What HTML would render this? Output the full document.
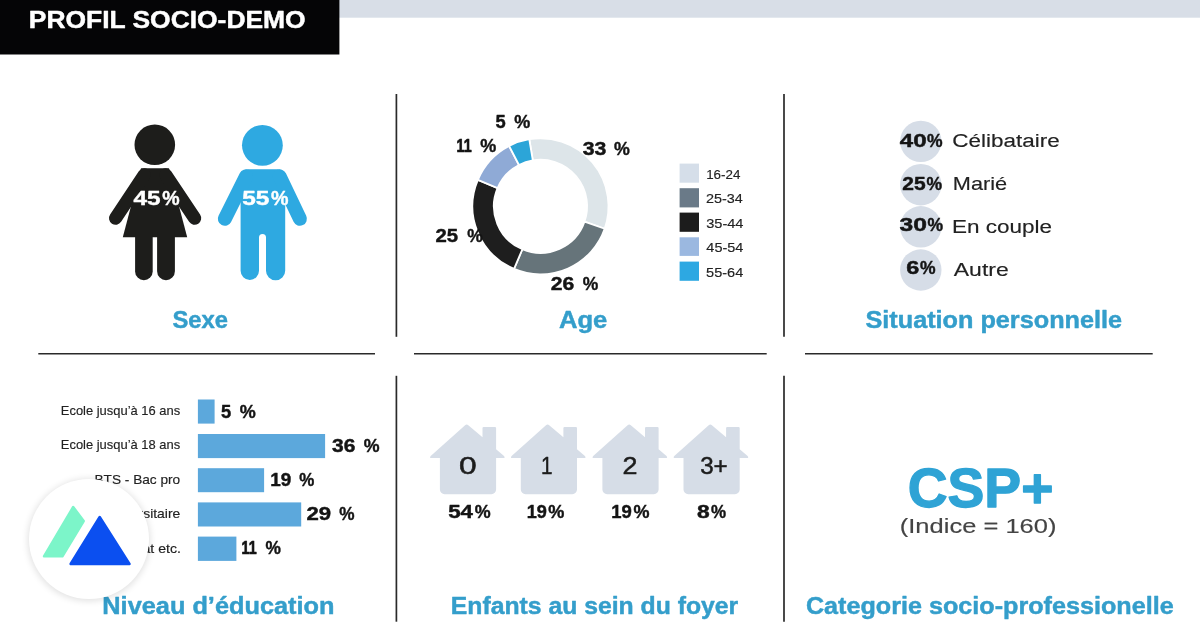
<!DOCTYPE html>
<html lang="fr"><head><meta charset="utf-8"><title>Profil socio-demo</title>
<style>
html,body{margin:0;padding:0;background:#ffffff;}
body{width:1200px;height:628px;overflow:hidden;}
svg{display:block;font-family:'Liberation Sans', Arial, sans-serif;}
</style></head><body>
<svg width="1200" height="628" viewBox="0 0 1200 628">
<rect width="1200" height="628" fill="#ffffff"/>
<rect x="339.00" y="0.00" width="861.00" height="17.70" fill="#d8dee7" />
<rect x="0.00" y="0.00" width="339.40" height="54.50" fill="#050506" />
<text transform="translate(28.77,28.27) scale(1.1192,1)" font-size="23.62" font-weight="700" fill="#ffffff" stroke="#ffffff" stroke-width="0.45" stroke-linejoin="round">PROFIL SOCIO-DEMO</text>
<line x1="38.3" y1="353.7" x2="375" y2="353.7" stroke="#2a2a2a" stroke-width="1.5"/>
<line x1="414" y1="353.7" x2="766.7" y2="353.7" stroke="#2a2a2a" stroke-width="1.5"/>
<line x1="805" y1="353.7" x2="1152.7" y2="353.7" stroke="#2a2a2a" stroke-width="1.5"/>
<line x1="396.4" y1="94" x2="396.4" y2="336.8" stroke="#2a2a2a" stroke-width="1.7"/>
<line x1="396.4" y1="375.8" x2="396.4" y2="621.7" stroke="#2a2a2a" stroke-width="1.7"/>
<line x1="784" y1="94" x2="784" y2="336.8" stroke="#2a2a2a" stroke-width="1.7"/>
<line x1="784" y1="375.8" x2="784" y2="621.7" stroke="#2a2a2a" stroke-width="1.7"/>
<text transform="translate(172.41,328.47) scale(1.0131,1)" font-size="23.47" font-weight="700" fill="#349ecb" stroke="#349ecb" stroke-width="0.45" stroke-linejoin="round">Sexe</text>
<text transform="translate(558.90,328.47) scale(1.0920,1)" font-size="23.47" font-weight="700" fill="#349ecb" stroke="#349ecb" stroke-width="0.45" stroke-linejoin="round">Age</text>
<text transform="translate(865.48,328.47) scale(1.0759,1)" font-size="23.47" font-weight="700" fill="#349ecb" stroke="#349ecb" stroke-width="0.45" stroke-linejoin="round">Situation personnelle</text>
<text transform="translate(102.33,613.77) scale(1.0792,1)" font-size="23.47" font-weight="700" fill="#349ecb" stroke="#349ecb" stroke-width="0.45" stroke-linejoin="round">Niveau d’éducation</text>
<text transform="translate(450.87,613.77) scale(1.0547,1)" font-size="23.47" font-weight="700" fill="#349ecb" stroke="#349ecb" stroke-width="0.45" stroke-linejoin="round">Enfants au sein du foyer</text>
<text transform="translate(805.93,613.77) scale(1.0725,1)" font-size="23.47" font-weight="700" fill="#349ecb" stroke="#349ecb" stroke-width="0.45" stroke-linejoin="round">Categorie socio-professionelle</text>
<g fill="#1d1d1b" stroke="#1d1d1b">
<circle cx="154.8" cy="144.8" r="20.3" stroke="none"/>
<path d="M141,168.2 L169,168.2 L187.2,237.3 L122.8,237.3 Z" stroke="none"/>
<line x1="144.3" y1="174.9" x2="115.6" y2="218.2" stroke-width="13.2" stroke-linecap="round"/>
<line x1="165.7" y1="174.9" x2="194.6" y2="218.2" stroke-width="13.2" stroke-linecap="round"/>
<path d="M135.1,232 H152.7 V271.4 A8.8,8.8 0 0 1 135.1,271.4 Z" stroke="none"/>
<path d="M157.1,232 H174.9 V271.3 A8.9,8.9 0 0 1 157.1,271.3 Z" stroke="none"/>
</g>
<g fill="#2ea9e1" stroke="#2ea9e1">
<circle cx="262.4" cy="145.3" r="20.4" stroke="none"/>
<path d="M240.6,177 A7.8,7.8 0 0 1 248.4,169.2 H277.4 A7.8,7.8 0 0 1 285.2,177 V270.7 A9.6,9.6 0 0 1 266,270.7 V237.4 A3.5,3.5 0 0 0 259,237.4 V270.7 A9.2,9.2 0 0 1 240.6,270.7 Z" stroke="none"/>
<line x1="246" y1="176.3" x2="224.8" y2="218.8" stroke-width="14" stroke-linecap="round"/>
<line x1="279.6" y1="176.3" x2="299.9" y2="218.8" stroke-width="14" stroke-linecap="round"/>
</g>
<text transform="translate(133.60,204.88) scale(1.1828,1)" font-size="20.57" font-weight="700" fill="#ffffff" stroke="#ffffff" stroke-width="0.45" stroke-linejoin="round">45</text>
<text transform="translate(162.23,204.88) scale(0.9505,1)" font-size="20.57" font-weight="700" fill="#ffffff" stroke="#ffffff" stroke-width="0.45" stroke-linejoin="round">%</text>
<text transform="translate(242.27,204.88) scale(1.1885,1)" font-size="20.57" font-weight="700" fill="#ffffff" stroke="#ffffff" stroke-width="0.45" stroke-linejoin="round">55</text>
<text transform="translate(271.02,204.88) scale(0.9562,1)" font-size="20.57" font-weight="700" fill="#ffffff" stroke="#ffffff" stroke-width="0.45" stroke-linejoin="round">%</text>
<path d="M529.28,139.23 A68.0,68.0 0 0 1 604.68,228.77 L584.48,221.70 A46.6,46.6 0 0 0 532.81,160.34 Z" fill="#dde5e9" stroke="#ffffff" stroke-width="1.8"/>
<path d="M604.68,228.77 A68.0,68.0 0 0 1 514.04,268.94 L522.37,249.23 A46.6,46.6 0 0 0 584.48,221.70 Z" fill="#66747a" stroke="#ffffff" stroke-width="1.8"/>
<path d="M514.04,268.94 A68.0,68.0 0 0 1 477.86,179.84 L497.57,188.17 A46.6,46.6 0 0 0 522.37,249.23 Z" fill="#1e1e1e" stroke="#ffffff" stroke-width="1.8"/>
<path d="M477.86,179.84 A68.0,68.0 0 0 1 509.10,145.98 L518.98,164.97 A46.6,46.6 0 0 0 497.57,188.17 Z" fill="#8faad6" stroke="#ffffff" stroke-width="1.8"/>
<path d="M509.10,145.98 A68.0,68.0 0 0 1 529.28,139.23 L532.81,160.34 A46.6,46.6 0 0 0 518.98,164.97 Z" fill="#2ca5d8" stroke="#ffffff" stroke-width="1.8"/>
<text transform="translate(495.62,128.47) scale(0.9516,1)" font-size="19.26" font-weight="700" fill="#141414" stroke="#141414" stroke-width="0.45" stroke-linejoin="round">5</text>
<text transform="translate(514.26,128.47) scale(0.9349,1)" font-size="19.26" font-weight="700" fill="#141414" stroke="#141414" stroke-width="0.45" stroke-linejoin="round">%</text>
<text transform="translate(456.59,151.62) scale(0.7561,1)" font-size="18.82" font-weight="700" fill="#141414" stroke="#141414" stroke-width="0.75" stroke-linejoin="round">11</text>
<text transform="translate(480.26,151.78) scale(0.9349,1)" font-size="19.26" font-weight="700" fill="#141414" stroke="#141414" stroke-width="0.45" stroke-linejoin="round">%</text>
<text transform="translate(582.77,155.18) scale(1.1052,1)" font-size="19.26" font-weight="700" fill="#141414" stroke="#141414" stroke-width="0.45" stroke-linejoin="round">33</text>
<text transform="translate(613.96,155.18) scale(0.9228,1)" font-size="19.26" font-weight="700" fill="#141414" stroke="#141414" stroke-width="0.45" stroke-linejoin="round">%</text>
<text transform="translate(435.53,242.38) scale(1.0570,1)" font-size="19.26" font-weight="700" fill="#141414" stroke="#141414" stroke-width="0.45" stroke-linejoin="round">25</text>
<text transform="translate(467.27,242.38) scale(0.9047,1)" font-size="19.26" font-weight="700" fill="#141414" stroke="#141414" stroke-width="0.45" stroke-linejoin="round">%</text>
<text transform="translate(550.71,289.88) scale(1.0987,1)" font-size="19.26" font-weight="700" fill="#141414" stroke="#141414" stroke-width="0.45" stroke-linejoin="round">26</text>
<text transform="translate(582.77,289.88) scale(0.9047,1)" font-size="19.26" font-weight="700" fill="#141414" stroke="#141414" stroke-width="0.45" stroke-linejoin="round">%</text>
<rect x="679.60" y="163.60" width="19.40" height="19.10" fill="#d5dee9" />
<text transform="translate(706.18,178.62) scale(1.0519,1)" font-size="12.72" font-weight="400" fill="#222222" stroke="#222222" stroke-width="0.15" stroke-linejoin="round">16-24</text>
<rect x="679.60" y="188.20" width="19.40" height="19.20" fill="#6a7a88" />
<text transform="translate(705.96,203.03) scale(1.1328,1)" font-size="12.72" font-weight="400" fill="#222222" stroke="#222222" stroke-width="0.15" stroke-linejoin="round">25-34</text>
<rect x="679.60" y="212.60" width="19.40" height="19.20" fill="#1c1c1c" />
<text transform="translate(706.14,227.62) scale(1.1491,1)" font-size="12.72" font-weight="400" fill="#222222" stroke="#222222" stroke-width="0.15" stroke-linejoin="round">35-44</text>
<rect x="679.60" y="237.30" width="19.40" height="18.60" fill="#9bb8e0" />
<text transform="translate(706.36,252.03) scale(1.1361,1)" font-size="12.72" font-weight="400" fill="#222222" stroke="#222222" stroke-width="0.15" stroke-linejoin="round">45-54</text>
<rect x="679.60" y="261.60" width="19.40" height="19.20" fill="#2da8e2" />
<text transform="translate(706.10,277.32) scale(1.1440,1)" font-size="12.72" font-weight="400" fill="#222222" stroke="#222222" stroke-width="0.15" stroke-linejoin="round">55-64</text>
<circle cx="920.8" cy="141.4" r="20.7" fill="#d6dde7"/>
<circle cx="920.8" cy="184.7" r="20.7" fill="#d6dde7"/>
<circle cx="920.8" cy="226.8" r="20.7" fill="#d6dde7"/>
<circle cx="920.8" cy="270.0" r="20.7" fill="#d6dde7"/>
<text transform="translate(899.84,147.38) scale(1.3517,1)" font-size="17.81" font-weight="700" fill="#141414" stroke="#141414" stroke-width="0.45" stroke-linejoin="round">40</text>
<text transform="translate(927.08,147.38) scale(0.9830,1)" font-size="17.81" font-weight="700" fill="#141414" stroke="#141414" stroke-width="0.45" stroke-linejoin="round">%</text>
<text transform="translate(902.33,189.78) scale(1.1779,1)" font-size="17.81" font-weight="700" fill="#141414" stroke="#141414" stroke-width="0.45" stroke-linejoin="round">25</text>
<text transform="translate(926.48,189.78) scale(0.9830,1)" font-size="17.81" font-weight="700" fill="#141414" stroke="#141414" stroke-width="0.45" stroke-linejoin="round">%</text>
<text transform="translate(899.56,231.38) scale(1.3821,1)" font-size="17.81" font-weight="700" fill="#141414" stroke="#141414" stroke-width="0.45" stroke-linejoin="round">30</text>
<text transform="translate(927.48,231.38) scale(0.9830,1)" font-size="17.81" font-weight="700" fill="#141414" stroke="#141414" stroke-width="0.45" stroke-linejoin="round">%</text>
<text transform="translate(906.22,273.77) scale(1.3162,1)" font-size="17.81" font-weight="700" fill="#141414" stroke="#141414" stroke-width="0.45" stroke-linejoin="round">6</text>
<text transform="translate(919.98,273.77) scale(0.9830,1)" font-size="17.81" font-weight="700" fill="#141414" stroke="#141414" stroke-width="0.45" stroke-linejoin="round">%</text>
<text transform="translate(952.27,147.23) scale(1.1937,1)" font-size="18.82" font-weight="400" fill="#222222" stroke="#222222" stroke-width="0.15" stroke-linejoin="round">Célibataire</text>
<text transform="translate(952.79,190.12) scale(1.1549,1)" font-size="18.82" font-weight="400" fill="#222222" stroke="#222222" stroke-width="0.15" stroke-linejoin="round">Marié</text>
<text transform="translate(952.03,233.43) scale(1.1962,1)" font-size="18.82" font-weight="400" fill="#222222" stroke="#222222" stroke-width="0.15" stroke-linejoin="round">En couple</text>
<text transform="translate(953.83,276.23) scale(1.2193,1)" font-size="18.82" font-weight="400" fill="#222222" stroke="#222222" stroke-width="0.15" stroke-linejoin="round">Autre</text>
<rect x="197.90" y="399.50" width="16.70" height="24.10" fill="#5ca8dc" />
<rect x="197.90" y="434.00" width="127.20" height="24.10" fill="#5ca8dc" />
<rect x="197.90" y="468.20" width="66.20" height="24.00" fill="#5ca8dc" />
<rect x="197.90" y="502.40" width="103.30" height="24.10" fill="#5ca8dc" />
<rect x="197.90" y="536.60" width="38.50" height="24.30" fill="#5ca8dc" />
<text transform="translate(221.02,418.47) scale(0.9585,1)" font-size="19.11" font-weight="700" fill="#141414" stroke="#141414" stroke-width="0.45" stroke-linejoin="round">5</text>
<text transform="translate(239.66,418.47) scale(0.9418,1)" font-size="19.11" font-weight="700" fill="#141414" stroke="#141414" stroke-width="0.45" stroke-linejoin="round">%</text>
<text transform="translate(331.97,451.77) scale(1.0989,1)" font-size="19.11" font-weight="700" fill="#141414" stroke="#141414" stroke-width="0.45" stroke-linejoin="round">36</text>
<text transform="translate(363.66,451.77) scale(0.9297,1)" font-size="19.11" font-weight="700" fill="#141414" stroke="#141414" stroke-width="0.45" stroke-linejoin="round">%</text>
<text transform="translate(270.14,486.38) scale(0.9898,1)" font-size="19.11" font-weight="700" fill="#141414" stroke="#141414" stroke-width="0.45" stroke-linejoin="round">19</text>
<text transform="translate(299.18,486.38) scale(0.8871,1)" font-size="19.11" font-weight="700" fill="#141414" stroke="#141414" stroke-width="0.45" stroke-linejoin="round">%</text>
<text transform="translate(306.48,520.27) scale(1.1610,1)" font-size="19.11" font-weight="700" fill="#141414" stroke="#141414" stroke-width="0.45" stroke-linejoin="round">29</text>
<text transform="translate(339.17,520.27) scale(0.8993,1)" font-size="19.11" font-weight="700" fill="#141414" stroke="#141414" stroke-width="0.45" stroke-linejoin="round">%</text>
<text transform="translate(241.60,553.73) scale(0.7617,1)" font-size="18.68" font-weight="700" fill="#141414" stroke="#141414" stroke-width="0.75" stroke-linejoin="round">11</text>
<text transform="translate(265.57,553.88) scale(0.9054,1)" font-size="19.11" font-weight="700" fill="#141414" stroke="#141414" stroke-width="0.45" stroke-linejoin="round">%</text>
<text transform="translate(60.81,415.23) scale(0.9942,1)" font-size="13.01" font-weight="400" fill="#222222" stroke="#222222" stroke-width="0.15" stroke-linejoin="round">Ecole jusqu’à 16 ans</text>
<text transform="translate(60.81,449.32) scale(0.9942,1)" font-size="13.01" font-weight="400" fill="#222222" stroke="#222222" stroke-width="0.15" stroke-linejoin="round">Ecole jusqu’à 18 ans</text>
<text transform="translate(94.45,483.82) scale(1.0505,1)" font-size="13.01" font-weight="400" fill="#222222" stroke="#222222" stroke-width="0.15" stroke-linejoin="round">BTS - Bac pro</text>
<text transform="translate(103.00,518.02) scale(1.0698,1)" font-size="13.01" font-weight="400" fill="#222222" stroke="#222222" stroke-width="0.15" stroke-linejoin="round">Universitaire</text>
<text transform="translate(100.92,552.82) scale(1.0856,1)" font-size="13.01" font-weight="400" fill="#222222" stroke="#222222" stroke-width="0.15" stroke-linejoin="round">Doctorat etc.</text>
<path d="M439.9,458 V489.5 A4.7,4.7 0 0 0 444.6,494.2 H491.4 A4.7,4.7 0 0 0 496.1,489.5 V458 H503.3 Q505.6,458 504.0,456 L496.1,449.3 V428.1 A1.2,1.2 0 0 0 494.9,426.9 H483.7 A1.2,1.2 0 0 0 482.5,428.1 V437.3 L468.3,425.2 Q466.7,423.6 465.1,425.2 L430.7,456 Q429.0,458 431.4,458 Z" fill="#d6dde7"/>
<path d="M520.8,458 V489.5 A4.7,4.7 0 0 0 525.5,494.2 H572.3 A4.7,4.7 0 0 0 577.0,489.5 V458 H584.2 Q586.5,458 584.9,456 L577.0,449.3 V428.1 A1.2,1.2 0 0 0 575.8,426.9 H564.6 A1.2,1.2 0 0 0 563.4,428.1 V437.3 L549.2,425.2 Q547.6,423.6 546.0,425.2 L511.6,456 Q509.9,458 512.3,458 Z" fill="#d6dde7"/>
<path d="M602.4,458 V489.5 A4.7,4.7 0 0 0 607.1,494.2 H653.9 A4.7,4.7 0 0 0 658.6,489.5 V458 H665.8 Q668.1,458 666.5,456 L658.6,449.3 V428.1 A1.2,1.2 0 0 0 657.4,426.9 H646.2 A1.2,1.2 0 0 0 645.0,428.1 V437.3 L630.8,425.2 Q629.2,423.6 627.6,425.2 L593.2,456 Q591.5,458 593.9,458 Z" fill="#d6dde7"/>
<path d="M683.5,458 V489.5 A4.7,4.7 0 0 0 688.2,494.2 H735.0 A4.7,4.7 0 0 0 739.7,489.5 V458 H746.9 Q749.2,458 747.6,456 L739.7,449.3 V428.1 A1.2,1.2 0 0 0 738.5,426.9 H727.3 A1.2,1.2 0 0 0 726.1,428.1 V437.3 L711.9,425.2 Q710.3,423.6 708.7,425.2 L674.3,456 Q672.6,458 675.0,458 Z" fill="#d6dde7"/>
<text transform="translate(459.06,473.55) scale(1.3068,1)" font-size="24.27" font-weight="400" fill="#1c1c1c" stroke="#1c1c1c" stroke-width="0.5" stroke-linejoin="round">0</text>
<text transform="translate(540.96,473.55) scale(0.8547,1)" font-size="24.27" font-weight="400" fill="#1c1c1c" stroke="#1c1c1c" stroke-width="0.5" stroke-linejoin="round">1</text>
<text transform="translate(622.53,473.55) scale(1.1088,1)" font-size="24.27" font-weight="400" fill="#1c1c1c" stroke="#1c1c1c" stroke-width="0.5" stroke-linejoin="round">2</text>
<text transform="translate(700.14,473.55) scale(0.9982,1)" font-size="24.27" font-weight="400" fill="#1c1c1c" stroke="#1c1c1c" stroke-width="0.5" stroke-linejoin="round">3+</text>
<text transform="translate(448.15,518.38) scale(1.2242,1)" font-size="18.24" font-weight="700" fill="#141414" stroke="#141414" stroke-width="0.45" stroke-linejoin="round">54</text>
<text transform="translate(474.77,518.38) scale(0.9792,1)" font-size="18.24" font-weight="700" fill="#141414" stroke="#141414" stroke-width="0.45" stroke-linejoin="round">%</text>
<text transform="translate(526.69,518.38) scale(0.9937,1)" font-size="18.24" font-weight="700" fill="#141414" stroke="#141414" stroke-width="0.45" stroke-linejoin="round">19</text>
<text transform="translate(548.37,518.38) scale(0.9919,1)" font-size="18.24" font-weight="700" fill="#141414" stroke="#141414" stroke-width="0.45" stroke-linejoin="round">%</text>
<text transform="translate(611.27,518.38) scale(1.0148,1)" font-size="18.24" font-weight="700" fill="#141414" stroke="#141414" stroke-width="0.45" stroke-linejoin="round">19</text>
<text transform="translate(633.57,518.38) scale(0.9856,1)" font-size="18.24" font-weight="700" fill="#141414" stroke="#141414" stroke-width="0.45" stroke-linejoin="round">%</text>
<text transform="translate(697.04,518.38) scale(1.2508,1)" font-size="18.24" font-weight="700" fill="#141414" stroke="#141414" stroke-width="0.45" stroke-linejoin="round">8</text>
<text transform="translate(710.89,518.38) scale(0.9283,1)" font-size="18.24" font-weight="700" fill="#141414" stroke="#141414" stroke-width="0.45" stroke-linejoin="round">%</text>
<text transform="translate(907.64,506.65) scale(1.0022,1)" font-size="55.09" font-weight="700" fill="#2fa3d5" stroke="#2fa3d5" stroke-width="1.3" stroke-linejoin="round">CSP+</text>
<text transform="translate(899.80,533.32) scale(1.2404,1)" font-size="20.57" font-weight="400" fill="#444444" stroke="#444444" stroke-width="0.15" stroke-linejoin="round">(Indice = 160)</text>
<defs><filter id="sh" x="-20%" y="-20%" width="140%" height="140%"><feGaussianBlur stdDeviation="3.5"/></filter></defs>
<circle cx="89" cy="540" r="61" fill="#000" opacity="0.12" filter="url(#sh)"/>
<circle cx="89" cy="539" r="60" fill="#ffffff"/>
<path d="M73.2,507 L83.7,521.1 L62.4,556.3 L44,556.3 Z" fill="#7cf5c9" stroke="#7cf5c9" stroke-width="2.5" stroke-linejoin="round"/>
<path d="M99.7,517 L70.6,564 L129.5,564 Z" fill="#0b4ff0" stroke="#0b4ff0" stroke-width="2.5" stroke-linejoin="round"/>
</svg>
</body></html>
